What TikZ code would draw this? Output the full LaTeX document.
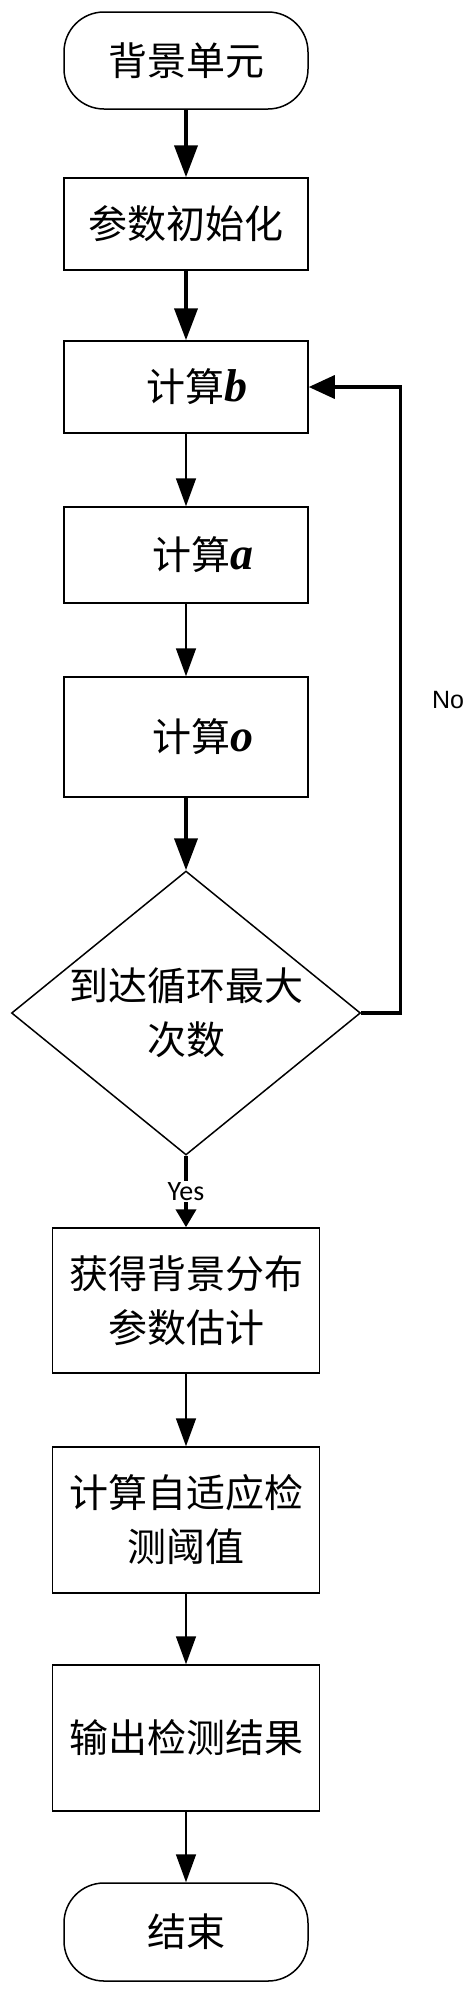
\documentclass[tikz,border=0pt]{standalone}
\usepackage{fontspec}
\newfontfamily\cjk{Noto Sans CJK SC}
\newfontfamily\nofont{Liberation Sans}
\newfontfamily\yesfont{Carlito}
\newfontfamily\varfont{Liberation Serif}
\usetikzlibrary{arrows.meta,shapes.geometric}
\tikzset{
  cjktext/.style={font=\cjk\fontsize{39pt}{54pt}\selectfont, align=center},
  procbox/.style={draw, line width=1.5pt, inner sep=0pt, cjktext, minimum width=#1},
  termbox/.style={draw, line width=1.5pt, inner sep=0pt, cjktext, rounded corners=40pt, minimum width=244pt},
  decbox/.style={draw, diamond, line width=1.5pt, inner sep=0pt, minimum width=349pt, minimum height=284pt},
  thickconn/.style={line width=4pt, -{Triangle[length=32pt,width=23pt]}},
  thinconn/.style={line width=1.6pt, -{Triangle[length=28pt,width=20pt]}},
  loopconn/.style={line width=3.4pt, -{Triangle[length=26pt,width=23pt]}},
  yesconn/.style={line width=4pt, -{Triangle[length=18pt,width=20pt]}},
}
\newcommand{\varletter}[1]{{\varfont\bfseries\itshape\fontsize{46pt}{46pt}\selectfont #1}}
\begin{document}
\begin{tikzpicture}[x=1pt,y=-1pt]
\useasboundingbox[fill=white] (0,0) rectangle (474,1997);

\node[termbox, minimum height=97pt] (start) at (186,60.5) {背景单元};
\node[procbox=244pt, minimum height=92pt] (init) at (186,224) {参数初始化};
\node[procbox=244pt, minimum height=92pt] (calcb) at (186,387) {\hspace*{22pt}计算\varletter{b}};
\node[procbox=244pt, minimum height=96pt] (calca) at (186,555) {\hspace*{34pt}计算\varletter{a}};
\node[procbox=244pt, minimum height=120pt] (calco) at (186,737) {\hspace*{34pt}计算\varletter{o}};
\node[decbox] (dia) at (186,1013) {};
\node[cjktext] (diatext) at (dia.center) {到达循环最大\\次数};
\node[procbox=267pt, minimum height=145pt] (est) at (186,1300.5) {获得背景分布\\参数估计};
\node[procbox=267pt, minimum height=146pt] (thr) at (186,1520) {计算自适应检\\测阈值};
\node[procbox=267pt, minimum height=146pt] (res) at (186,1738) {输出检测结果};
\node[termbox, minimum height=98pt] (finish) at (186,1932) {结束};

\node[font=\nofont\fontsize{25pt}{25pt}\selectfont] (nolabel) at (448,700) {No};

\draw[thickconn] (start.south) -- (init.north);
\draw[thickconn] (init.south) -- (calcb.north);
\draw[thinconn] (calcb.south) -- (calca.north);
\draw[thinconn] (calca.south) -- (calco.north);
\draw[thickconn] (calco.south) -- (dia.north);
\draw[yesconn] (dia.south) -- (est.north)
  node[midway, fill=white, inner sep=1pt, font=\yesfont\fontsize{28pt}{28pt}\selectfont] (yes) {Yes};
\draw[thinconn] (est.south) -- (thr.north);
\draw[thinconn] (thr.south) -- (res.north);
\draw[thinconn] (res.south) -- (finish.north);
\draw[loopconn] (dia.east) -- ++(39,0) |- (calcb.east);
\end{tikzpicture}
\end{document}
